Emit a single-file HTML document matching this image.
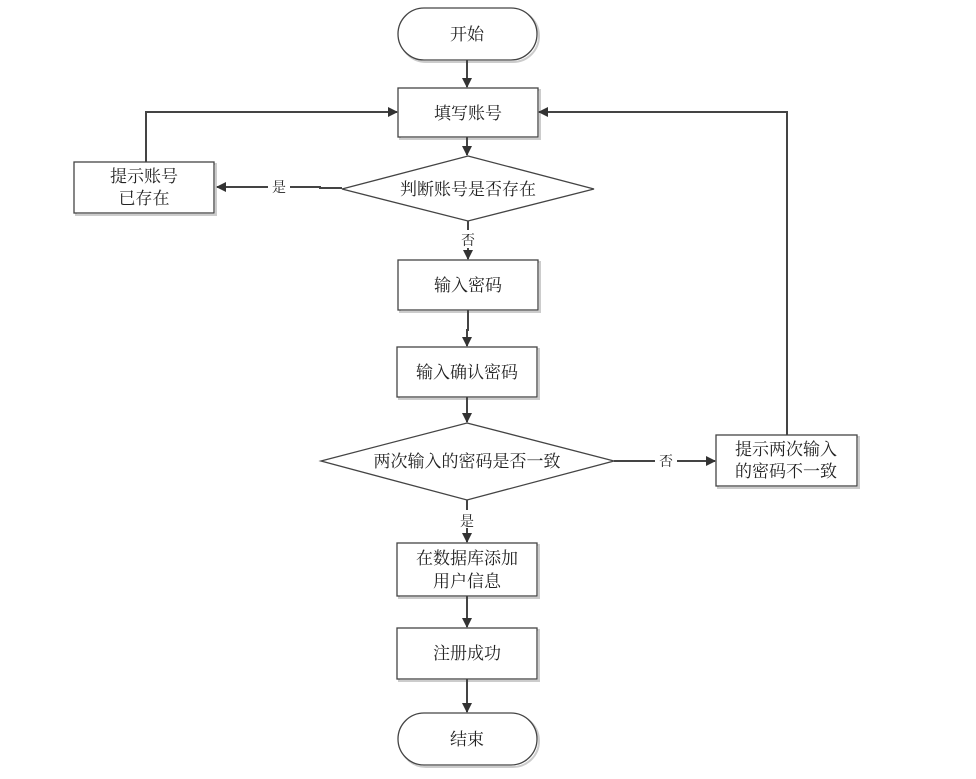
<!DOCTYPE html>
<html><head><meta charset="utf-8"><style>
html,body{margin:0;padding:0;background:#fff;}
svg text{font-family:"Liberation Serif","Noto Serif CJK SC",serif;font-size:17px;fill:#222;}
</style></head><body>
<svg width="976" height="774" viewBox="0 0 976 774" xmlns="http://www.w3.org/2000/svg">
<defs>
<marker id="a" markerWidth="10" markerHeight="10" refX="9" refY="5" orient="auto" markerUnits="userSpaceOnUse">
<path d="M0,0 L10,5 L0,10 Z" fill="#333"/></marker>
</defs>
<g stroke="#ccc" stroke-width="2" fill="none">
<rect x="400" y="90" width="140" height="49"/>
<rect x="76" y="164" width="140" height="51"/>
<rect x="400" y="262" width="140" height="50"/>
<rect x="399" y="349" width="140" height="50"/>
<rect x="718" y="437" width="141" height="51"/>
<rect x="399" y="545" width="140" height="53"/>
<rect x="399" y="630" width="140" height="51"/>
<rect x="400" y="10" width="139" height="52" rx="26"/>
<rect x="400" y="715" width="139" height="52" rx="26"/>
</g>
<g stroke="#444" stroke-width="1.3" fill="#fff">
<rect x="398" y="8" width="139" height="52" rx="26"/>
<rect x="398" y="88" width="140" height="49"/>
<polygon points="468,156 594,189 468,221 342,189"/>
<rect x="74" y="162" width="140" height="51"/>
<rect x="398" y="260" width="140" height="50"/>
<rect x="397" y="347" width="140" height="50"/>
<polygon points="467,423 614,461 467,500 321,461"/>
<rect x="716" y="435" width="141" height="51"/>
<rect x="397" y="543" width="140" height="53"/>
<rect x="397" y="628" width="140" height="51"/>
<rect x="398" y="713" width="139" height="52" rx="26"/>
</g>
<g stroke="#444" stroke-width="2" fill="none" marker-end="url(#a)">
<line x1="467" y1="60" x2="467" y2="87"/>
<line x1="467" y1="137" x2="467" y2="155"/>
<polyline points="342,188 320,188 320,187 217,187"/>
<polyline points="146,162 146,112 397,112"/>
<line x1="468" y1="221" x2="468" y2="259"/>
<polyline points="468,310 468,330 467,330 467,346"/>
<line x1="467" y1="397" x2="467" y2="422"/>
<line x1="614" y1="461" x2="715" y2="461"/>
<polyline points="787,435 787,112 539,112"/>
<line x1="467" y1="500" x2="467" y2="542"/>
<line x1="467" y1="596" x2="467" y2="627"/>
<line x1="467" y1="679" x2="467" y2="712"/>
</g>
<g fill="#fff">
<rect x="268" y="178" width="22" height="18"/>
<rect x="458" y="230" width="20" height="18"/>
<rect x="655" y="452" width="22" height="18"/>
<rect x="457" y="510" width="20" height="18"/>
</g>
<g text-anchor="middle">
<text x="467" y="40">开始</text>
<text x="468" y="119">填写账号</text>
<text x="468" y="195">判断账号是否存在</text>
<text x="144" y="182">提示账号</text>
<text x="144" y="204">已存在</text>
<text x="279" y="192" style="font-size:14px">是</text>
<text x="468" y="245" style="font-size:14px">否</text>
<text x="468" y="291">输入密码</text>
<text x="467" y="378">输入确认密码</text>
<text x="467" y="467">两次输入的密码是否一致</text>
<text x="666" y="466" style="font-size:14px">否</text>
<text x="786" y="455">提示两次输入</text>
<text x="786" y="477">的密码不一致</text>
<text x="467" y="526" style="font-size:14px">是</text>
<text x="467" y="564">在数据库添加</text>
<text x="467" y="587">用户信息</text>
<text x="467" y="659">注册成功</text>
<text x="467" y="745">结束</text>
</g>
</svg>
</body></html>
